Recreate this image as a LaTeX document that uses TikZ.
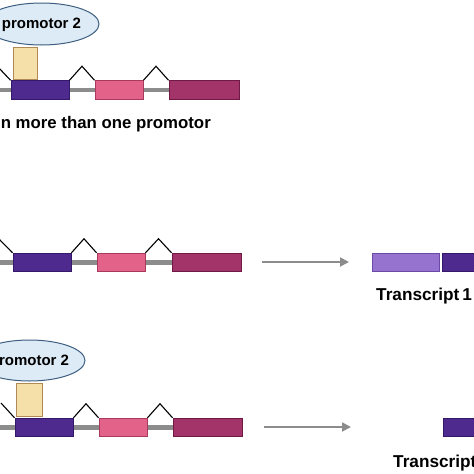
\documentclass[tikz,border=0pt]{standalone}
\usepackage{fontspec}
\setmainfont{Liberation Sans}
\usetikzlibrary{calc,backgrounds,arrows.meta,shapes.geometric}
\definecolor{exA}{HTML}{4E2A8E}
\definecolor{exAd}{HTML}{34196A}
\definecolor{exB}{HTML}{E2628A}
\definecolor{exBd}{HTML}{A83A5E}
\definecolor{exC}{HTML}{A3346A}
\definecolor{exCd}{HTML}{6E1A42}
\definecolor{exL}{HTML}{9573CF}
\definecolor{exLd}{HTML}{6A4AA8}
\definecolor{yel}{HTML}{F6E0AA}
\definecolor{yeld}{HTML}{B08A55}
\definecolor{ellf}{HTML}{DDEBF7}
\definecolor{elld}{HTML}{3F5F80}
\definecolor{dnag}{HTML}{8C8C8C}
\begin{document}
\begin{tikzpicture}[x=1pt,y=-1pt,
  exon/.style={draw,line width=1pt,inner sep=0pt,minimum height=18.5pt},
  exA/.style={exon,fill=exA,draw=exAd},
  exB/.style={exon,fill=exB,draw=exBd},
  exC/.style={exon,fill=exC,draw=exCd},
  exL/.style={exon,fill=exL,draw=exLd},
  tfbox/.style={draw=yeld,fill=yel,line width=1pt,inner sep=0pt},
  prom/.style={ellipse,draw=elld,fill=ellf,line width=1pt,inner sep=0pt},
  intron/.style={line width=1.1pt,black},
  dna/.style={line width=4.8pt,dnag},
  arr/.style={line width=1.8pt,dnag,-{Triangle[length=9pt,width=9pt]}},
  lbl/.style={font=\fontsize{16.8}{19}\selectfont\bfseries,inner sep=0pt},
  tlbl/.style={font=\fontsize{17.2}{19}\selectfont\bfseries,inner sep=0pt},
  plbl/.style={font=\fontsize{15}{17}\selectfont\bfseries,inner sep=0pt}]
\useasboundingbox (0,0) rectangle (474,474);
\clip (0,0) rectangle (474,474);
% ---------- top ----------
\node[prom,minimum width=115pt,minimum height=42pt] (e1) at (41.5,24) {};
\node[plbl] (p1) at (41.5,25) {promotor 2};
\node[tfbox,minimum width=24pt,minimum height=32pt] (y1) at (25,63) {};
\node[exA,minimum width=58pt] (a1) at (40,90) {};
\node[exB,minimum width=48pt] (b1) at (119,90) {};
\node[exC,minimum width=70pt] (c1) at (204,90) {};
\coordinate (s1) at (-5,90);
\coordinate (k1) at (-2,67);
\begin{scope}[on background layer]
\draw[dna] (s1) -- (c1.center);
\end{scope}
\draw[intron] (k1) -- (a1.north west);
\draw[intron] (a1.north east) -- ($(a1.north east)!0.5!(b1.north west)+(0,-14)$) -- (b1.north west);
\draw[intron] (b1.north east) -- ($(b1.north east)!0.5!(c1.north west)+(0,-14)$) -- (c1.north west);
\node[lbl,anchor=base east] (t1) at (211,128) {n more than one promotor};
% ---------- middle ----------
\node[exA,minimum width=58pt] (a2) at (42,262.5) {};
\node[exB,minimum width=48pt] (b2) at (121,262.5) {};
\node[exC,minimum width=69pt] (c2) at (206.5,262.5) {};
\coordinate (s2) at (-5,262.5);
\coordinate (k2) at (-1,239);
\begin{scope}[on background layer]
\draw[dna] (s2) -- (c2.center);
\end{scope}
\draw[intron] (k2) -- (a2.north west);
\draw[intron] (a2.north east) -- ($(a2.north east)!0.5!(b2.north west)+(0,-14)$) -- (b2.north west);
\draw[intron] (b2.north east) -- ($(b2.north east)!0.5!(c2.north west)+(0,-14)$) -- (c2.north west);
\coordinate (r2s) at (262,262);
\coordinate (r2e) at (349,262);
\draw[arr] (r2s) -- (r2e);
\node[exL,minimum width=67pt] (m2) at (405.5,262.5) {};
\node[exA,minimum width=58pt] (n2) at (471,262.5) {};
\node[tlbl,anchor=base west] (t2) at (376,300) {Transcript\kern3pt 1};
% ---------- bottom ----------
\node[prom,minimum width=111pt,minimum height=41pt] (e3) at (29.5,360.5) {};
\node[plbl] (p3) at (29.5,361.5) {promotor 2};
\node[tfbox,minimum width=26pt,minimum height=33pt] (y3) at (29,399.5) {};
\node[exA,minimum width=58pt] (a3) at (44,427.5) {};
\node[exB,minimum width=48pt] (b3) at (123,427.5) {};
\node[exC,minimum width=69pt] (c3) at (207.5,427.5) {};
\coordinate (s3) at (-5,427.5);
\coordinate (k3) at (1,403);
\begin{scope}[on background layer]
\draw[dna] (s3) -- (c3.center);
\end{scope}
\draw[intron] (k3) -- (a3.north west);
\draw[intron] (a3.north east) -- ($(a3.north east)!0.5!(b3.north west)+(0,-14)$) -- (b3.north west);
\draw[intron] (b3.north east) -- ($(b3.north east)!0.5!(c3.north west)+(0,-14)$) -- (c3.north west);
\coordinate (r3s) at (264,427);
\coordinate (r3e) at (351,427);
\draw[arr] (r3s) -- (r3e);
\node[exA,minimum width=58pt] (n3) at (472,427.5) {};
\node[tlbl,anchor=base west] (t3) at (393,467) {Transcript\kern3pt 2};
\end{tikzpicture}
\end{document}
